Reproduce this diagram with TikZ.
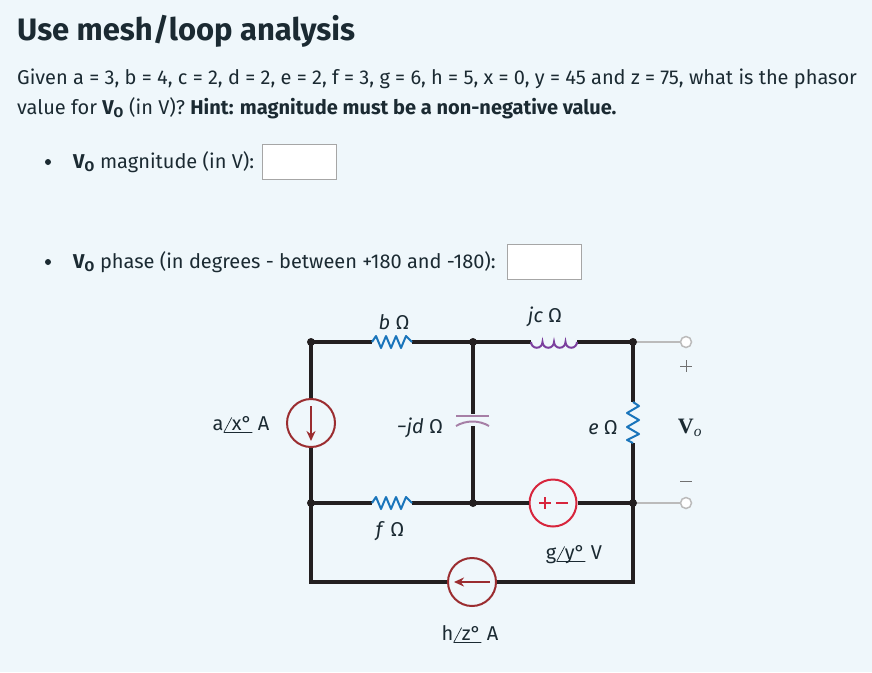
\documentclass[tikz,border=0pt]{standalone}
\usepackage{fontspec}
\setmainfont{Fira Sans}
\newfontfamily\serifvo{Liberation Serif}
\usetikzlibrary{arrows.meta}
\definecolor{bg}{HTML}{EFF7FB}
\definecolor{txt}{HTML}{1B2A32}
\definecolor{wire}{HTML}{231F20}
\definecolor{resb}{HTML}{1A75BB}
\definecolor{indp}{HTML}{7B3F9E}
\definecolor{capp}{HTML}{A67FA6}
\definecolor{srcr}{HTML}{9B2D30}
\definecolor{vsr}{HTML}{D7263D}
\definecolor{term}{HTML}{BBBBBB}
\newcommand\phs[2]{#1\tikz[baseline=0pt,x=1cm,y=1cm]{\node[inner sep=0pt,anchor=base west,text=txt](q){\hspace{8pt}#2\textdegree};\draw[txt,line width=.7pt] ([yshift=-2.5pt]q.base west)--([yshift=-2.5pt]q.base east) ([yshift=-2.5pt]q.base west)--++(62:17pt);}}
\begin{document}
\begin{tikzpicture}[x=1pt,y=-1pt,
  wr/.style={wire,line width=3.2pt},
  lbl/.style={text=txt,font=\fontsize{20}{22}\selectfont,inner sep=0pt},
  clbl/.style={text=txt,font=\fontsize{20}{22}\selectfont,inner sep=0pt},
  ansbox/.style={draw=gray!70,fill=white,line width=0.8pt},
  dot/.style={circle,fill=wire,inner sep=0pt,minimum size=8pt}]
\fill[bg] (0,0) rectangle (872,672);
\useasboundingbox (0,0) rectangle (872,672);
\node[anchor=base west,text=txt,font=\fontsize{31}{33}\selectfont\bfseries,inner sep=0pt] (title) at (17,40) {Use mesh/loop analysis};
\node[lbl,anchor=base west] (l1) at (17,84) {Given a = 3, b = 4, c = 2, d = 2, e = 2, f = 3, g = 6, h = 5, x = 0, y = 45 and z = 75, what is the phasor};
\node[lbl,anchor=base west] (l2) at (17,114) {value for \textbf{V\textsubscript{O}} (in V)? \textbf{Hint: magnitude must be a non-negative value.}};
\node[circle,fill=txt,inner sep=0pt,minimum size=6pt] (b1) at (48,162) {};
\node[lbl,anchor=base west] (q1) at (73,168) {\textbf{V\textsubscript{O}} magnitude (in V):};
\draw[ansbox] (262,144) rectangle (336,179);
\node[circle,fill=txt,inner sep=0pt,minimum size=6pt] (b2) at (48,262) {};
\node[lbl,anchor=base west] (q2) at (73,268) {\textbf{V\textsubscript{O}} phase (in degrees - between +180 and -180):};
\draw[ansbox] (507,244) rectangle (581,279);
% nodes
\coordinate (TL) at (311,342); \coordinate (TM) at (473,342); \coordinate (TR) at (633,342);
\coordinate (ML) at (311,503); \coordinate (MM) at (473,503); \coordinate (MR) at (633,503);
\coordinate (BL) at (311,582); \coordinate (BR) at (633,582);
\node[circle,draw=srcr,line width=2pt,minimum size=48pt,inner sep=0pt] (ia) at (311,423) {};
\node[circle,draw=srcr,line width=2pt,minimum size=48pt,inner sep=0pt] (ih) at (472,582) {};
\node[circle,draw=vsr,line width=2pt,minimum size=47pt,inner sep=0pt] (vg) at (553,503) {};
% wires
\draw[wr] (ia.north)--(TL)--(372,342); \draw[wr] (412,342)--(531,342); \draw[wr] (577,342)--(TR)--(633,402);
\draw[wr] (633,443)--(MR)--(BR)--(ih.east);
\draw[wr] (ih.west)--(BL)--(ML)--(ia.south);
\draw[wr] (ML)--(372,503); \draw[wr] (412,503)--(MM)--(vg.west); \draw[wr] (vg.east)--(MR);
\draw[wr] (TM)--(473,414); \draw[wr] (473,426)--(MM);
% resistors
\draw[resb,line width=2pt,line join=round] (372,342)--(376,336)--(381,348)--(386,336)--(391,348)--(396,336)--(401,348)--(406,336)--(412,342);
\draw[resb,line width=2pt,line join=round] (372,503)--(376,497)--(381,509)--(386,497)--(391,509)--(396,497)--(401,509)--(406,497)--(412,503);
\draw[resb,line width=2pt,line join=round] (633,402)--(639,406)--(627,413)--(639,420)--(627,427)--(639,434)--(627,440)--(633,443);
% inductor
\draw[indp,line width=2pt] (531,342) arc[start angle=180,end angle=0,radius=5.75] arc[start angle=180,end angle=0,radius=5.75] arc[start angle=180,end angle=0,radius=5.75] arc[start angle=180,end angle=0,radius=5.75];
% capacitor
\draw[capp,line width=2pt] (456,416)--(489,416);
\draw[capp,line width=2pt] (456,426) .. controls (466,420) and (479,420) .. (489,426);
% terminals
\node[circle,draw=term,fill=white,line width=1.5pt,minimum size=11pt,inner sep=0pt] (Tp) at (686,342) {};
\node[circle,draw=term,fill=white,line width=1.5pt,minimum size=11pt,inner sep=0pt] (Tm) at (686,503) {};
\draw[term,line width=2.5pt] (TR)--(Tp.west); \draw[term,line width=2.5pt] (MR)--(Tm.west);
\foreach \n in {TL,TM,TR,ML,MM,MR} \node[dot] at (\n) {};
% source internals
\draw[srcr,line width=2pt,-{Stealth[length=10pt,width=9pt]}] (311,406)--(311,441);
\draw[srcr,line width=2pt,-{Stealth[length=10pt,width=9pt]}] (490,582)--(454,582);
\draw[vsr,line width=1.3pt] (539,503)--(551,503) (545,497)--(545,509) (556,503)--(568,503);
% labels
\draw[term!60!black,line width=1pt] (680,366)--(692,366) (686,360)--(686,372) (680,481)--(692,481);
\node[text=txt,font=\fontsize{22}{24}\selectfont\serifvo\bfseries] (vo) at (690,428) {V\textsubscript{\textit{\mdseries o}}};
\node[clbl] (lb) at (394,322) {\textit{b} Ω};
\node[clbl] (lc) at (545,317) {\textit{jc} Ω};
\node[clbl] (ld) at (420,428) {\textit{−jd} Ω};
\node[clbl] (le) at (603,428) {\textit{e} Ω};
\node[clbl] (lf) at (390,531) {\textit{f} Ω};
\node[clbl,anchor=base] (la) at (241,430) {\phs{a}{x} A};
\node[clbl,anchor=base] (lg) at (574,559) {\phs{g}{y} V};
\node[clbl,anchor=base] (lh) at (470,640) {\phs{h}{z} A};
\end{tikzpicture}
\end{document}
